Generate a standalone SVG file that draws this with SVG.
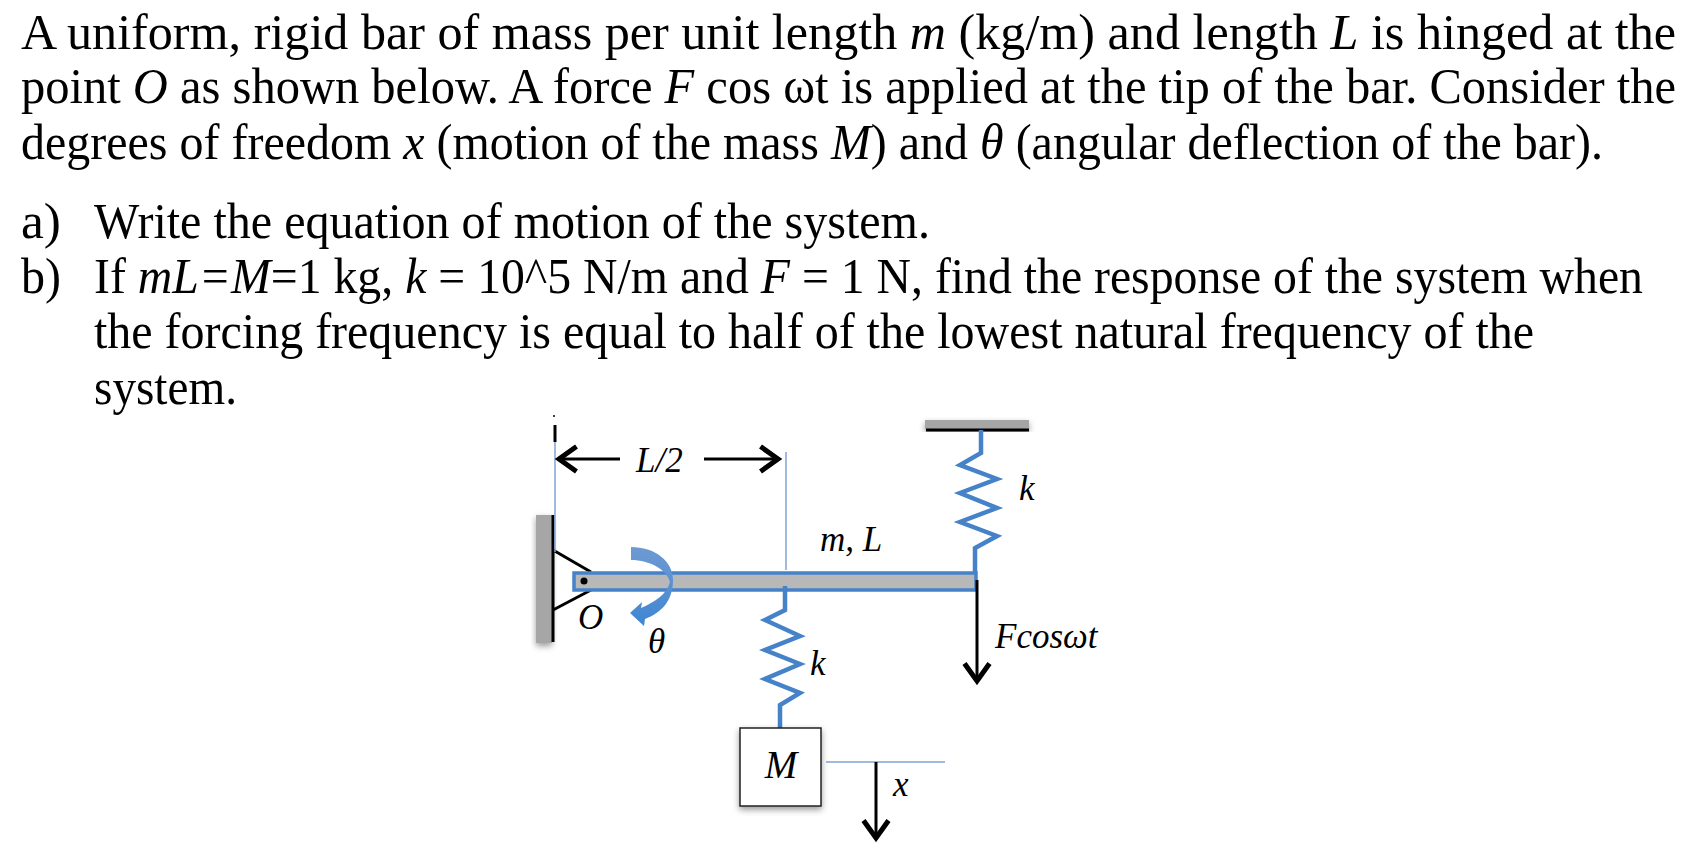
<svg xmlns="http://www.w3.org/2000/svg" width="1708" height="854" viewBox="0 0 1708 854">
<style>
text{font-family:"Liberation Serif","Times New Roman",serif;fill:#000}
.q{font-size:50px}
.i{font-style:italic}
.l{font-size:35px;font-style:italic}
.sp{fill:none;stroke:#4582c8;stroke-width:4.5;stroke-linejoin:miter}
.thin{fill:none;stroke:#7fa3cf;stroke-width:1.5}
.blk{fill:none;stroke:#000;stroke-width:3}
</style>
<defs>
<marker id="chev" markerUnits="userSpaceOnUse" markerWidth="30" markerHeight="30" refX="20" refY="12" orient="auto-start-reverse" viewBox="0 0 24 24"><path d="M6 2L20 12L6 22" fill="none" stroke="#000" stroke-width="4"/></marker>
<filter id="sh" x="-30%" y="-30%" width="160%" height="160%"><feDropShadow dx="0" dy="3" stdDeviation="3" flood-color="#000" flood-opacity=".4"/></filter>
<linearGradient id="arc" x1="0" y1="0" x2="0" y2="1"><stop offset="0" stop-color="#6f9ad2"/><stop offset="1" stop-color="#3f86d3"/></linearGradient>
</defs>
<g id="statement">
<text class="q" x="21" y="49" textLength="1655" lengthAdjust="spacingAndGlyphs">A uniform, rigid bar of mass per unit length <tspan class="i">m</tspan> (kg/m) and length <tspan class="i">L</tspan> is hinged at the</text>
<text class="q" x="21" y="103" textLength="1655" lengthAdjust="spacingAndGlyphs">point <tspan class="i">O</tspan> as shown below. A force <tspan class="i">F</tspan> cos ωt is applied at the tip of the bar. Consider the</text>
<text class="q" x="21" y="159" textLength="1582" lengthAdjust="spacingAndGlyphs">degrees of freedom <tspan class="i">x</tspan> (motion of the mass <tspan class="i">M</tspan>) and <tspan class="i">θ</tspan> (angular deflection of the bar).</text>
<text class="q" x="21" y="238" textLength="40" lengthAdjust="spacingAndGlyphs">a)</text>
<text class="q" x="94" y="238" textLength="836" lengthAdjust="spacingAndGlyphs">Write the equation of motion of the system.</text>
<text class="q" x="21" y="293" textLength="40" lengthAdjust="spacingAndGlyphs">b)</text>
<text class="q" x="94" y="293" textLength="1549" lengthAdjust="spacingAndGlyphs">If <tspan class="i">mL=M</tspan>=1 kg, <tspan class="i">k</tspan> = 10^5 N/m and <tspan class="i">F</tspan> = 1 N, find the response of the system when</text>
<text class="q" x="94" y="348" textLength="1440" lengthAdjust="spacingAndGlyphs">the forcing frequency is equal to half of the lowest natural frequency of the</text>
<text class="q" x="94" y="404" textLength="143" lengthAdjust="spacingAndGlyphs">system.</text>
</g>
<g id="wall"><rect x="536" y="515" width="16" height="128" fill="#a6a6a6" filter="url(#sh)"/><path class="blk" stroke-width="3.5" d="M553 515V642"/></g>
<g id="hinge"><path class="blk" d="M553 550L591 572M553 610L591 590"/></g>
<g id="ceiling"><rect x="925" y="420" width="104" height="9" fill="#a6a6a6" filter="url(#sh)"/><path class="blk" d="M926 430H1029"/></g>
<g id="bar"><rect x="574" y="573" width="402" height="17" fill="#b8b8b8" stroke="#4582c8" stroke-width="3.5"/><circle cx="584" cy="581" r="3.5" fill="#000"/></g>
<g id="connectors">
<path class="thin" d="M555 442V552"/>
<path class="blk" d="M555 425V442"/>
<circle cx="554" cy="416" r="1" fill="#000"/>
<path class="thin" d="M786 452V570"/>
<path class="blk" marker-start="url(#chev)" d="M559 459H620"/>
<path class="blk" marker-end="url(#chev)" d="M704 459H778"/>
<path class="sp" d="M785 586V610L765 620L800 636L765 650L800 664L765 679L800 693L780 705V728"/>
<path class="sp" d="M981 430V453L960 465L997 479L960 493L997 508L960 522L997 536L975 548V573"/>
<path class="blk" stroke-width="4.5" marker-end="url(#chev)" d="M977 580V681"/>
<path class="thin" d="M826 762H945"/>
<path class="blk" marker-end="url(#chev)" d="M876 762V838"/>
<path d="M631 547C655 547 673 561 673 580C673 601 661 613 645 619L644 626L630 613L642 602L641 608C655 602 667 594 670 582C667 570 650 560 631 560Z" fill="url(#arc)"/>
</g>
<g id="mass"><rect x="740" y="728" width="81" height="78" fill="#fff" stroke="#222" stroke-width="1.5" filter="url(#sh)"/><text class="l" x="781" y="778" text-anchor="middle" style="font-size:39px">M</text></g>
<g id="labels">
<text class="l" x="636" y="472">L/2</text>
<text class="l" x="820" y="551">m, L</text>
<text class="l" x="1019" y="500">k</text>
<text class="l" x="810" y="675">k</text>
<text class="l" x="578" y="629">O</text>
<text class="l" x="648" y="653">θ</text>
<text class="l" x="995" y="648">Fcosωt</text>
<text class="l" x="893" y="796">x</text>
</g>
</svg>
